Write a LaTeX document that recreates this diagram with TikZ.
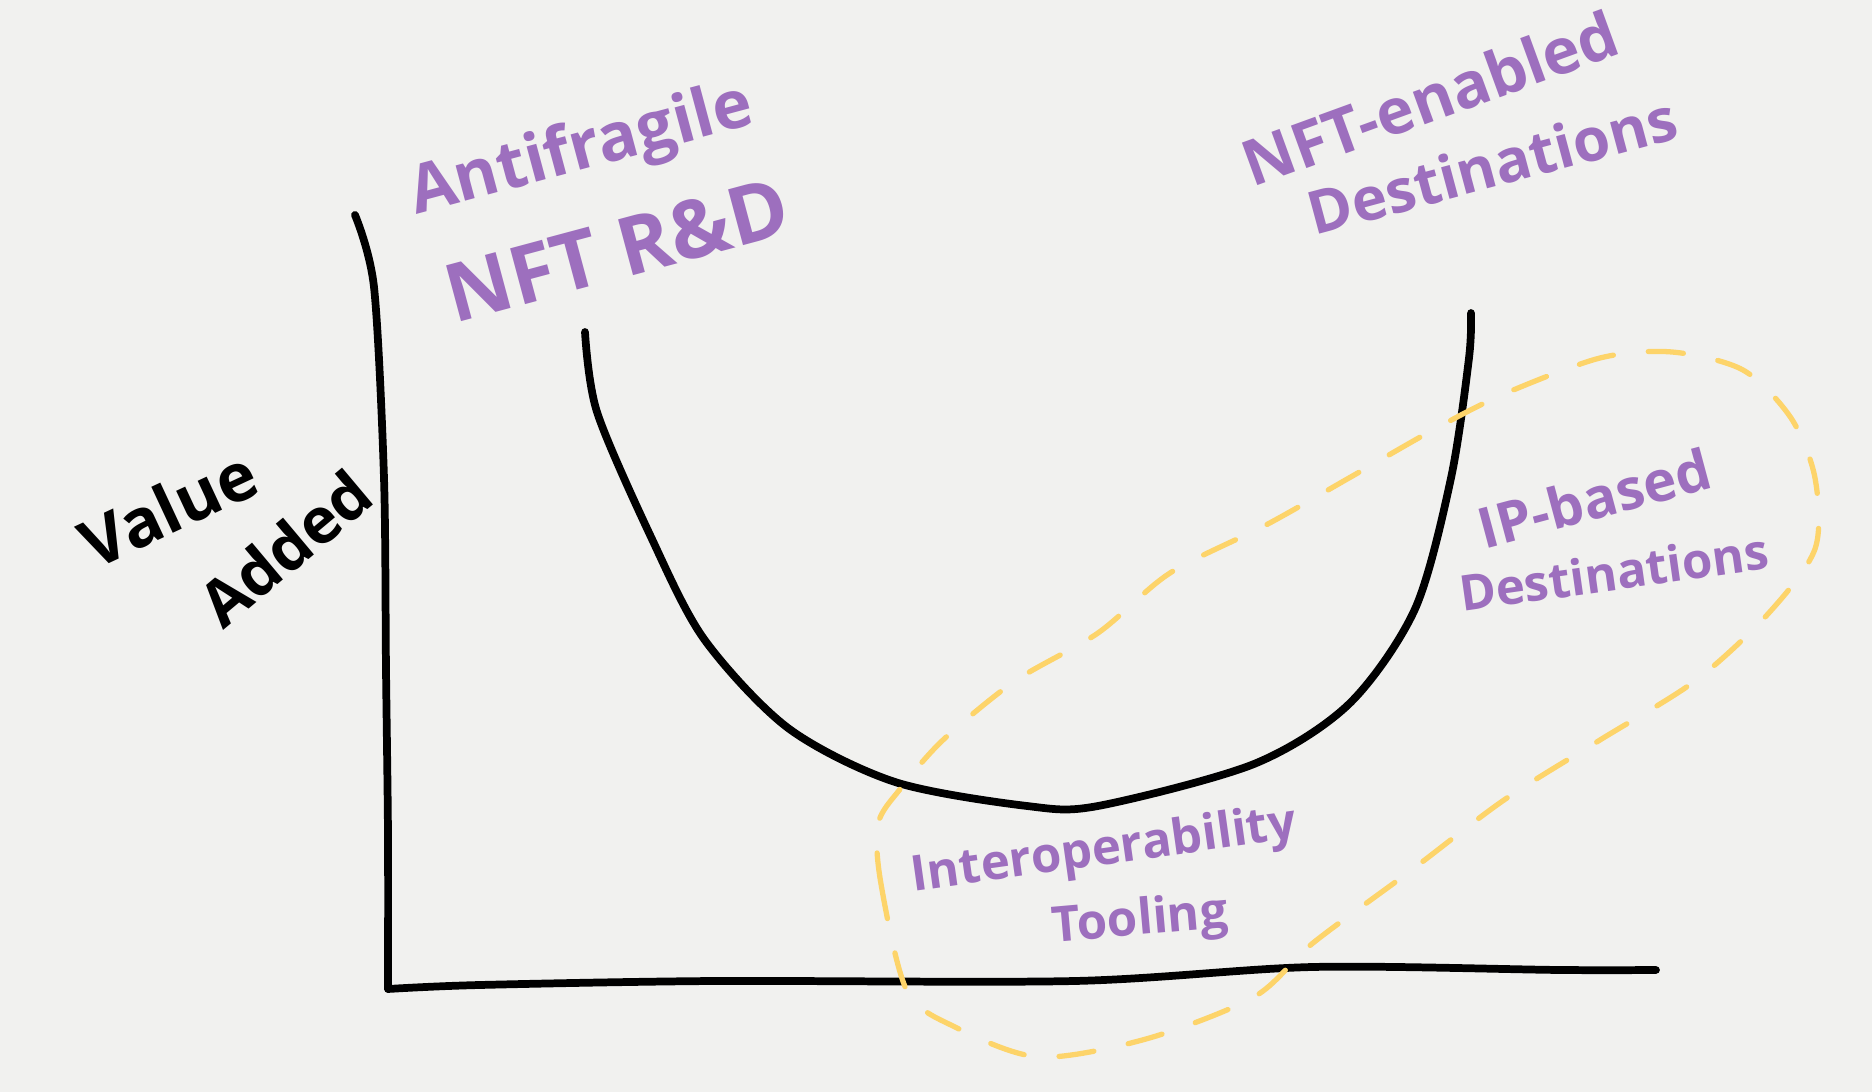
\documentclass[tikz,border=0pt]{standalone}
\usepackage{fontspec}
\setmainfont{Open Sans}
\usetikzlibrary{positioning}
\definecolor{paper}{HTML}{F1F1EF}
\definecolor{pen}{HTML}{9D6FBE}
\definecolor{marker}{HTML}{FDD46A}
\tikzset{x=0.01cm, y=-0.01cm,
  inkline/.style={line width=2.2pt, line cap=round, line join=round},
  zone/.style={marker, line width=1.5pt, line cap=round, dash pattern=on 10pt off 10pt},
  note/.style={pen, font=\bfseries, inner sep=0pt},
  axislabel/.style={black, font=\bfseries, inner sep=0pt}}

\begin{document}
\begin{tikzpicture}
    \fill[paper] (0,0) rectangle (1872,1092);
    \useasboundingbox (0,0) rectangle (1872,1092);
    % axes
    \coordinate (top) at (355,215);
    \coordinate (origin) at (388,989);
    \coordinate (right) at (1656,970);
    \draw[inkline] plot[smooth] coordinates {(top) (374,287) (384,478) (386,669) (388,836) (origin)};
    \draw[inkline] plot[smooth] coordinates {(origin) (480,985) (716,981) (1075,981) (1313,967) (1560,970) (right)};
    % value curve
    \draw[inkline] plot[smooth] coordinates {(585,332) (597,412) (651,537) (704,639) (788,728) (895,782)
        (1027,806) (1098,806) (1254,764) (1349,704) (1415,609) (1451,478) (1469,358) (1471,313)};
    % dashed loop round the tooling
    \draw[zone] plot[smooth cycle] coordinates {(878,824) (881,884) (907,991) (955,1027) (1039,1057)
        (1146,1039) (1254,997) (1313,943) (1409,872) (1504,800) (1600,740) (1695,681) (1767,615)
        (1815,549) (1815,478) (1791,418) (1743,370) (1672,352) (1600,358) (1504,394) (1433,430)
        (1349,478) (1266,525) (1170,573) (1098,633) (1015,681) (943,740) (901,788)};
    % labels
    \node[axislabel, rotate=25, font=\bfseries\fontsize{19}{23}\selectfont] (value) at (168,508) {Value};
    \node[axislabel, rotate=40, font=\bfseries\fontsize{18}{22}\selectfont] (added) at (285,548) {Added};
    \node[note, rotate=15, font=\bfseries\fontsize{19}{23}\selectfont] (anti) at (582,152) {Antifragile};
    \node[note, rotate=15, font=\bfseries\fontsize{23}{27}\selectfont] (rnd) at (617,250) {NFT R\&D};
    \node[note, rotate=20, font=\bfseries\fontsize{18}{22}\selectfont] (nftdest) at (1430,98) {NFT-enabled};
    \node[note, rotate=15, font=\bfseries\fontsize{17}{21}\selectfont] (nftdest2) at (1492,165) {Destinations};
    \node[note, rotate=15, font=\bfseries\fontsize{16}{20}\selectfont] (ipdest) at (1594,498) {IP-based};
    \node[note, rotate=8, font=\bfseries\fontsize{14}{18}\selectfont] (ipdest2) at (1614,572) {Destinations};
    \node[note, rotate=8, font=\bfseries\fontsize{14}{18}\selectfont] (interop) at (1104,852) {Interoperability};
    \node[note, rotate=5, font=\bfseries\fontsize{14}{18}\selectfont] (tooling) at (1140,922) {Tooling};
\end{tikzpicture}
\end{document}
